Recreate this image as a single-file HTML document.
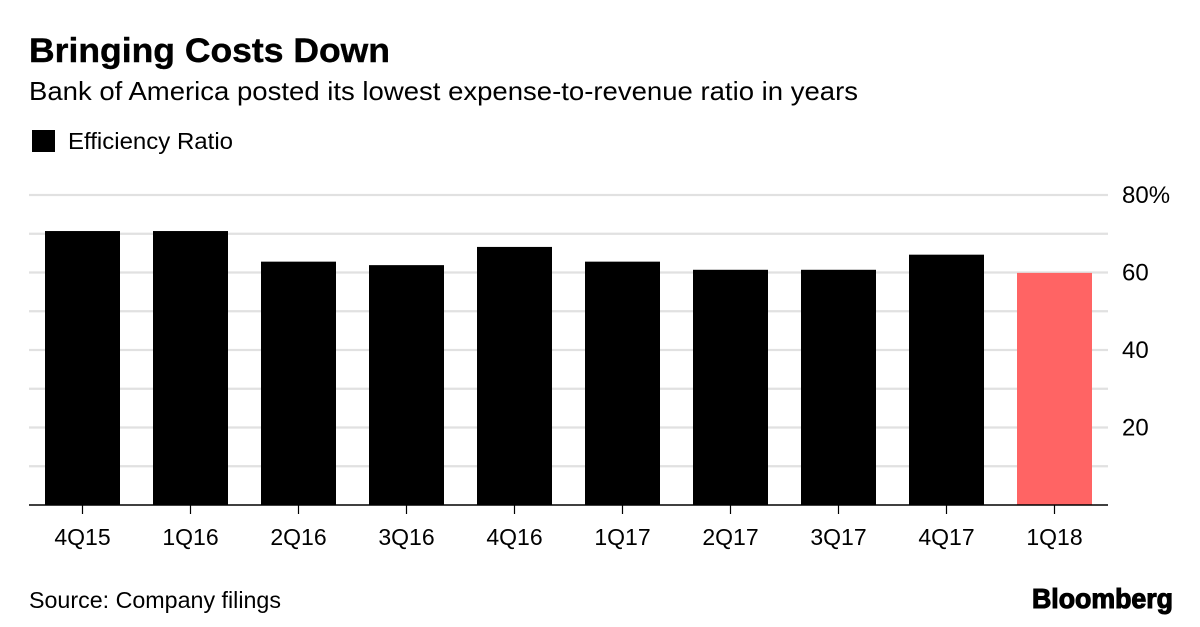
<!DOCTYPE html>
<html lang="en">
<head>
<meta charset="utf-8">
<title>Bringing Costs Down</title>
<style>
  html, body { margin: 0; padding: 0; background: #fff; }
  svg { display: block; font-family: "Liberation Sans", sans-serif; fill: #000; }
</style>
</head>
<body>
<svg id="chart" width="1200" height="627" viewBox="0 0 1200 627" xmlns="http://www.w3.org/2000/svg">
  <rect width="1200" height="627" fill="#fff"/>
  <text x="29" y="62" font-size="34" font-weight="700" stroke="#000" stroke-width="0.4" textLength="361" lengthAdjust="spacingAndGlyphs">Bringing Costs Down</text>
  <text x="29" y="100" font-size="26" textLength="829" lengthAdjust="spacingAndGlyphs">Bank of America posted its lowest expense-to-revenue ratio in years</text>
  <rect x="32" y="130" width="23" height="22" fill="#000"/>
  <text x="68" y="149" font-size="23" textLength="165" lengthAdjust="spacingAndGlyphs">Efficiency Ratio</text>
  <g id="grid"></g>
  <g id="bars"></g>
  <g id="axis"></g>
  <text x="29" y="608" font-size="23" textLength="252" lengthAdjust="spacingAndGlyphs">Source: Company filings</text>
  <text x="1032" y="608" font-size="28" font-weight="700" stroke="#000" stroke-width="1.1" textLength="141" lengthAdjust="spacingAndGlyphs">Bloomberg</text>
</svg>
<script>
const categories = ["4Q15","1Q16","2Q16","3Q16","4Q16","1Q17","2Q17","3Q17","4Q17","1Q18"];
const efficiencyRatio = [70.7,70.7,62.8,61.9,66.6,62.8,60.7,60.7,64.6,59.9];
const gridValues = [10,20,30,40,50,60,70,80];
const yTickValues = [20,40,60,80];
const yTickLabels = ["20","40","60","80%"];

const NS = "http://www.w3.org/2000/svg";
const plotLeft = 29, plotRight = 1108, plotBottom = 505, pxPerUnit = 3.875;
const firstCenter = 82.5, bandWidth = 108, barWidth = 75;
function yScale(v) { return plotBottom - v * pxPerUnit; }
function xCenter(i) { return firstCenter + bandWidth * i; }
function make(tag, attrs, parent, text) {
  const el = document.createElementNS(NS, tag);
  for (const k in attrs) el.setAttribute(k, attrs[k]);
  if (text !== undefined) el.textContent = text;
  parent.appendChild(el);
  return el;
}
const grid = document.getElementById("grid");
const bars = document.getElementById("bars");
const axis = document.getElementById("axis");

gridValues.forEach(function (v) {
  const line = make("line", {x1: plotLeft, x2: plotRight, y1: yScale(v), y2: yScale(v), stroke: "#e1e1e1", "stroke-width": 2.2}, grid);
  
  
});
categories.forEach(function (c, i) {
  const top = yScale(efficiencyRatio[i]);
  const color = i === categories.length - 1 ? "#ff6464" : "#000";
  const bar = make("rect", {x: xCenter(i) - barWidth / 2, y: top, width: barWidth, height: plotBottom - top, fill: color}, bars);
  
  
  const tick = make("line", {x1: xCenter(i), x2: xCenter(i), y1: plotBottom, y2: plotBottom + 9, stroke: "#000", "stroke-width": 1.2}, axis);
  
  
  const label = make("text", {x: xCenter(i), y: 545, "font-size": 23, "text-anchor": "middle"}, axis, c);
  
  
});
const baseline = make("line", {x1: plotLeft, x2: plotRight, y1: plotBottom, y2: plotBottom, stroke: "#000", "stroke-width": 1.6}, axis);


yTickValues.forEach(function (v, i) {
  const label = make("text", {x: 1122, y: yScale(v) + 8, "font-size": 24}, axis, yTickLabels[i]);
  
  
});
</script>
</body>
</html>
